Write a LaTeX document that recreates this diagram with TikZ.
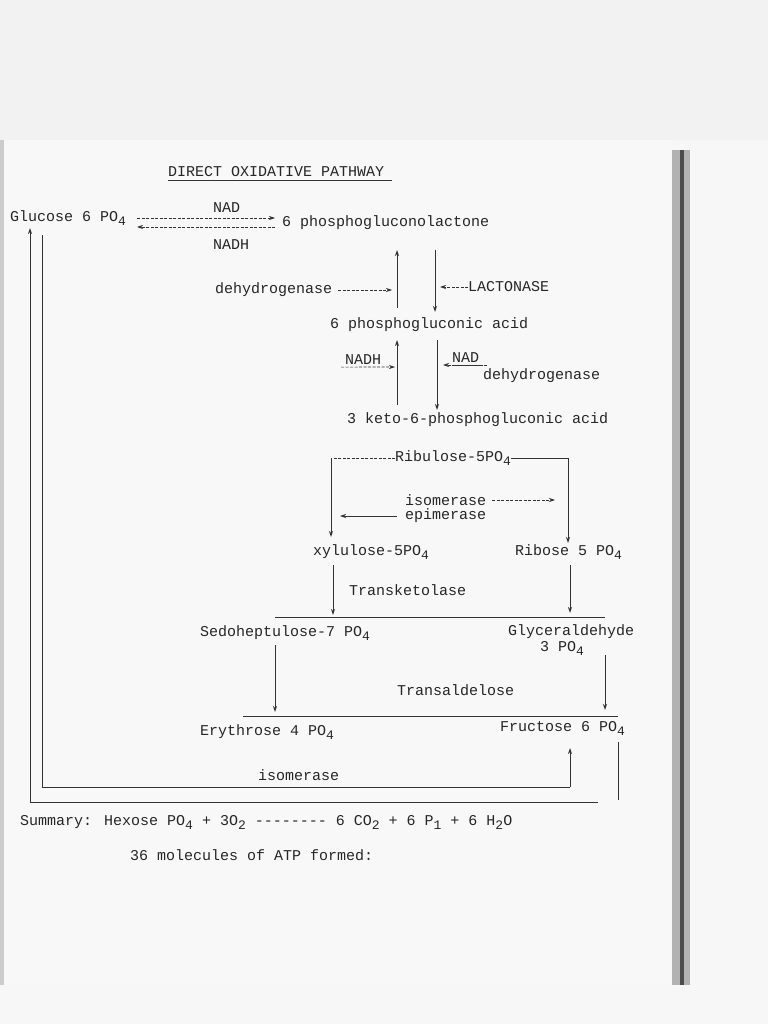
\documentclass[tikz,border=0pt]{standalone}
\usepackage{fontspec}
\setmainfont{Liberation Mono}
\usetikzlibrary{arrows.meta}
\newcommand{\sbs}[1]{\raisebox{-4pt}{\fontsize{13}{13}\selectfont #1}}
\begin{document}
\begin{tikzpicture}[x=1pt,y=-1pt,
  t/.style={anchor=west,inner sep=0pt,font=\fontsize{15}{18}\selectfont,text=black!85},
  ln/.style={line width=1pt,black!80},
  ar/.style={ln,-{Stealth[length=6pt,width=4pt]}},
  da/.style={ar,dash pattern=on 3pt off 1.5pt,line width=0.7pt}]
\useasboundingbox (0,0) rectangle (768,1024);
\fill[gray!6] (0,0) rectangle (768,1024);
\fill[gray!10] (0,0) rectangle (768,140);
\fill[blue!3!gray!5] (0,140) rectangle (672,985);
\fill[gray!60] (672,150) rectangle (690,985);
\fill[black!70] (680,150) rectangle (684,985);
\fill[gray!40] (0,140) rectangle (4,985);
% texts
\node[t] (title) at (168,172) {DIRECT OXIDATIVE PATHWAY};
\draw[ln,line width=0.7pt] (title.south west)++(0,3) -- ++(224,0);
\node[t] (g6p) at (10,218) {Glucose 6 PO\sbs{4}};
\node[t] (nad1) at (213,208) {NAD};
\node[t] (nadh1) at (213,245) {NADH};
\node[t] (pgl) at (282,223) {6 phosphogluconolactone};
\node[t] (deh1) at (215,290) {dehydrogenase};
\node[t] (lac) at (468,287) {LACTONASE};
\node[t] (pga) at (330,325) {6 phosphogluconic acid};
\node[t] (nadh2) at (345,360) {NADH};
\node[t] (nad2) at (452,358) {NAD};
\node[t] (deh2) at (483,376) {dehydrogenase};
\node[t] (keto) at (347,420) {3 keto-6-phosphogluconic acid};
\node[t] (ribu) at (395,458) {Ribulose-5PO\sbs{4}};
\node[t] (iso1) at (405,500) {isomerase};
\node[t] (epi) at (405,516) {epimerase};
\node[t] (xyl) at (313,552) {xylulose-5PO\sbs{4}};
\node[t] (rib) at (515,552) {Ribose 5 PO\sbs{4}};
\node[t] (tk) at (349,590) {Transketolase};
\node[t] (sed) at (200,633) {Sedoheptulose-7 PO\sbs{4}};
\node[t] (gly) at (508,632) {Glyceraldehyde};
\node[t] (gly2) at (540,648) {3 PO\sbs{4}};
\node[t] (ta) at (397,690) {Transaldelose};
\node[t] (ery) at (200,732) {Erythrose 4 PO\sbs{4}};
\node[t] (fru) at (500,728) {Fructose 6 PO\sbs{4}};
\node[t] (iso2) at (258,775) {isomerase};
\node[t] (sum) at (20,822) {Summary: Hexose PO\sbs{4} + 3O\sbs{2} {-}{-}{-}{-}{-}{-}{-}{-} 6 CO\sbs{2} + 6 P\sbs{1} + 6 H\sbs{2}O};
\node[t] (atp) at (130,855) {36 molecules of ATP formed:};
% underlines + arrows
\draw[da] (nadh2.south west)++(-4,2) -- (395,367);
\draw[da] (487,365) -- (443,365);
\draw[ln,line width=0.6pt] (nad2.south west)++(0,2) -- ++(28,0);
\draw[da] (137,218) -- (275,218);
\draw[da] (275,227) -- (137,227);
\draw[ar] (397,308) -- (397,250);
\draw[ar] (435,250) -- (435,312);
\draw[da] (deh1.east)++(6,0) -- (392,290);
\draw[da] (lac.west) -- (440,287);
\draw[ar] (397,405) -- (397,340);
\draw[ar] (437,340) -- (437,410);
% ribulose branch
\draw[ln,dash pattern=on 3pt off 1.5pt,line width=0.7pt] (ribu.west) -- (331,458);
\draw[ar] (331,458) -- (331,537);
\draw[ln] (ribu.east) -- (568,458);
\draw[ar] (568,458) -- (568,543);
\draw[da] (iso1.east)++(6,0) -- (555,500);
\draw[ar,line width=0.7pt] (epi.west)++(-8,0) -- (340,516);
\draw[ar] (333,565) -- (333,615);
\draw[ar] (570,565) -- (570,613);
\draw[ln] (275,617) -- (605,617);
\draw[ar] (275,645) -- (275,712);
\draw[ar] (605,655) -- (605,710);
\draw[ln] (243,716) -- (618,716);
% bottom loops
\draw[ar] (570,787) -- (570,748);
\draw[ln] (42,235) -- (42,787) -- (570,787);
\draw[ar] (598,802) -- (30,802) -- (30,228);
\draw[ln] (618,742) -- (618,800);
\end{tikzpicture}
\end{document}
